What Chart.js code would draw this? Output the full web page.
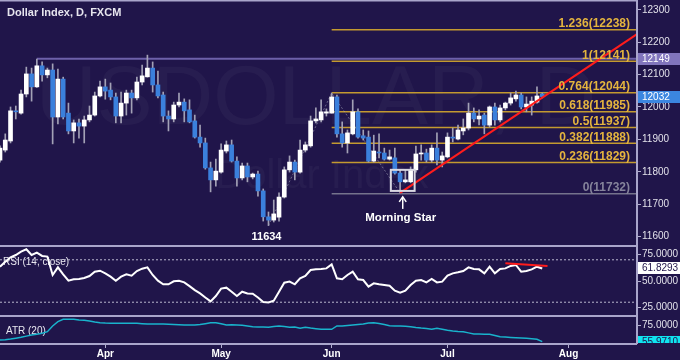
<!DOCTYPE html>
<html>
<head>
<meta charset="utf-8">
<script src="https://cdn.jsdelivr.net/npm/chart.js@4.4.1/dist/chart.umd.min.js"></script>
<style>
  html,body{margin:0;padding:0;background:#20154a;}
  canvas{display:block;}
</style>
</head>
<body>
<canvas id="c" width="680" height="360"></canvas>
<script>
/* Dollar Index, daily — candles + RSI(14) + ATR(20) */

// daily candles, Mar 4 2015 onward (one per weekday)
const opens  = [11836,11867,11895,11988,11981,12040,12102,12062,12127,12099,12114,11969,12086,11981,11926,11951,11941,11960,11975,12034,
                12062,12052,12031,11972,12012,12043,12028,12077,12093,12120,12068,12037,11972,11963,12006,12015,11991,11957,11907,11889,
                11812,11775,11799,11864,11883,11833,11781,11818,11784,11793,11741,11661,11651,11660,11722,11806,11830,11799,11867,11880,
                11957,11960,11981,11981,12031,11917,11889,11917,11985,11911,11907,11833,11861,11858,11839,11843,11796,11769,11769,11806,
                11855,11858,11836,11873,11836,11846,11907,11901,11926,11935,11981,11963,11975,11944,12000,11960,11997,12012,12025,12037,
                12000,12006,12015,12040];
const highs  = [11880,11917,12000,12003,12052,12123,12120,12148,12139,12120,12133,12117,12092,12012,11960,11963,11972,12003,12046,12080,
                12086,12074,12043,12046,12052,12052,12092,12129,12160,12139,12111,12046,11988,12015,12043,12025,12022,11975,11944,11904,
                11830,11839,11886,11895,11898,11846,11827,11827,11796,11802,11747,11676,11713,11735,11815,11849,11836,11898,11892,11972,
                11997,12022,11994,12043,12037,11954,11929,12022,11994,11929,11926,11913,11917,11873,11867,11873,11806,11806,11815,11879,
                11883,11870,11883,11920,11861,11920,11935,11944,11963,12012,11997,11991,11981,12003,12012,12006,12015,12043,12049,12043,
                12031,12031,12062,12043];
const lows   = [11830,11861,11889,11963,11978,12031,12018,12060,12080,12090,11886,11948,11963,11917,11889,11904,11889,11954,11972,12031,
                12024,12022,11951,11951,11975,11981,12022,12068,12092,12046,12028,11954,11926,11954,12000,11954,11951,11904,11876,11808,
                11738,11756,11796,11858,11830,11756,11775,11769,11778,11725,11648,11634,11645,11648,11719,11799,11775,11796,11861,11876,
                11951,11954,11972,11981,11907,11876,11858,11914,11904,11898,11830,11830,11843,11836,11836,11793,11735,11766,11766,11799,
                11836,11830,11830,11821,11815,11843,11892,11898,11914,11929,11954,11945,11917,11938,11944,11954,11991,12006,12018,11994,
                11985,11975,12012,12028];
const closes = [11873,11898,11988,11985,12040,12102,12062,12127,12099,12114,11969,12086,11969,11926,11951,11941,11960,11975,12034,12062,
                12049,12031,11972,12012,12043,12028,12077,12096,12120,12068,12034,11972,11963,12006,12015,11988,11954,11907,11889,11812,
                11775,11802,11867,11883,11833,11781,11818,11784,11793,11741,11661,11651,11670,11722,11806,11830,11799,11867,11883,11957,
                11963,11985,11985,12031,11917,11889,11920,11985,11907,11904,11833,11864,11858,11839,11846,11796,11769,11775,11806,11855,
                11858,11836,11873,11836,11849,11907,11904,11929,11935,11981,11963,11972,11944,12000,11960,11997,12012,12028,12037,12000,
                12009,12018,12034,12032];

const rsiValues = [63.5,68.2,72.3,74.5,77.7,79.9,74.5,76.7,73.6,73,55.7,62.9,56.3,50.3,51.6,51.9,52.8,54.7,58.8,59.7,
                   57.2,54.1,50.3,54.1,56.3,55,59.4,61.6,62.9,55.7,50.3,46.9,46.9,49.7,50.3,48.7,45.2,41.4,38.3,34.5,
                   30.8,35.8,42.8,43.7,39.9,35.8,39.9,38.3,38,34.5,30.1,29.8,31.4,39.9,48.4,49.4,46.9,52.5,54.7,60.4,
                   61,61.3,61.9,65.7,52.5,51.6,55.7,58.8,51.6,50.9,44.7,47.8,46.9,46.2,45.6,40.9,39,40.9,46.2,50.3,
                   50.9,48.7,51.9,48.7,49.4,55,57.2,58.2,59.4,62.9,61.3,61,57.2,63.5,57.2,61.3,61.9,64.2,65.1,58.8,
                   59.4,61,63.5,61.8293];
const atrValues = [57.9,58.2,59,60,61,62.3,63.6,64.5,65.5,67.4,73.9,78.8,81.5,81.5,81.5,80.7,80.4,79.6,78.5,77.7,
                   77.2,76.9,76.9,76.9,76.9,76.9,76.9,76.5,76.1,76.1,76.1,76.1,75.8,75.5,75.2,75,75,75,75.5,76.5,
                   77.5,77.7,76.5,75,75.2,75,74.8,74,73.1,72.8,72.6,72.4,73.2,73.9,73.2,72.4,72.6,71.2,72.5,71.5,
                   70.8,70.1,70.1,70.1,73.9,73.9,74.5,75,75.5,76.1,77.2,77.7,76.8,75.5,74.2,73.9,73.9,73.5,73.1,72.2,
                   71.5,71,70.1,71.2,70.1,69,68.2,67.6,67.2,66,64.7,64.6,64.5,64.4,63,61.7,61.2,60.8,60.5,60.2,
                   59.8,59.3,58.7,55.971];

// fibonacci levels drawn from the June high
const fibRatios = ['1.236','1','0.764','0.618','0.5','0.382','0.236','0'];
const fibPrices = [12238,12141,12044,11985,11937,11888,11829,11732];
const fibFrom = 63;

const resistPrice = 12149, resistFrom = 7;
const trendIdx = [76,121], trendPrices = [11735,12225];
const zigIdx = [51,63,76], zigPrices = [11634,12043,11735];
const starIdx = [75,78], starBox = [11741,11806];
const lowIdx = 51, lowLabel = '11634';

const rsiBands = [70,30];
const rsiDivIdx = [96,104], rsiDivValues = [66.7,64.2];

const priceTicks = [11600,11700,11800,11900,12000,12100,12200,12300];
const rsiTicks = [25,50,75];
const atrTicks = [75];
const lastPrice = 12032, lastRsi = 61.8293, lastAtr = 55.9710;

const SLOTS = 122;
const MONTHS = ['Jan','Feb','Mar','Apr','May','Jun','Jul','Aug','Sep','Oct','Nov','Dec'];

// weekday calendar for the x categories
const days = [];
for (let d = new Date(Date.UTC(2015,2,4)); days.length < SLOTS; d.setUTCDate(d.getUTCDate()+1)) {
  const w = d.getUTCDay();
  if (w > 0 && w < 6) days.push(d.toISOString().slice(0,10));
}
const monthTick = days.map((s,i) => (i > 0 && s.slice(5,7) !== days[i-1].slice(5,7)) ? MONTHS[+s.slice(5,7)-1] : '');

const BG = '#20154a', BLUE = '#3b80dc', GOLD = '#c39a30', GOLDTXT = '#e4b43e', FRAME = '#a9a5cb';
const TICK = '#e2e1ea', FONT = '"Liberation Sans", Arial, sans-serif';
Chart.defaults.font.family = FONT;

const seg = (idx, vals) => idx.map((i,k) => ({x: days[i], y: vals[k]}));
const bull = opens.map((o,i) => closes[i] >= o);

const datasets = [
  {type:'line', data: seg(trendIdx, trendPrices), borderColor:'#ff1c1c', borderWidth:2, pointRadius:0, order:0, yAxisID:'y'},
  {type:'bar', data: opens.map((o,i) => [o, closes[i]]), backgroundColor: bull.map(b => b ? '#ffffff' : BLUE),
   barThickness:4, grouped:false, minBarLength:1, order:1, yAxisID:'y'},
  {type:'bar', data: lows.map((l,i) => [l, highs[i]]), backgroundColor:'#a3a1b6',
   barThickness:1, grouped:false, order:2, yAxisID:'y'},
  {type:'line', data: seg(zigIdx, zigPrices), borderColor:'rgba(170,168,190,0.55)', borderWidth:1, borderDash:[2,2], pointRadius:0, order:4, yAxisID:'y'},
  {type:'line', data: seg([resistFrom, SLOTS-1], [resistPrice, resistPrice]), borderColor:'#6d60aa', borderWidth:2, pointRadius:0, order:5, yAxisID:'y'},
  ...fibPrices.map((p,k) => ({type:'line', data: seg([fibFrom, SLOTS-1], [p,p]),
     borderColor: fibRatios[k] === '0' ? '#75738c' : GOLD, borderWidth:1.5, pointRadius:0, order:5, yAxisID:'y'})),
  ...rsiBands.map(v => ({type:'line', data: seg([0, SLOTS-1], [v,v]), borderColor:'#b9b7cf', borderWidth:1, borderDash:[2,2], pointRadius:0, order:6, yAxisID:'rsi'})),
  {type:'line', data: rsiValues, borderColor:'#ffffff', borderWidth:2, pointRadius:0, order:3, yAxisID:'rsi'},
  {type:'line', data: seg(rsiDivIdx, rsiDivValues), borderColor:'#ff1c1c', borderWidth:2, pointRadius:0, order:0, yAxisID:'rsi'},
  {type:'line', data: atrValues, borderColor:'#19b3cc', borderWidth:1.5, pointRadius:0, order:3, yAxisID:'atr'}
];

function yAxis(weight, min, max, list, fmt){
  return {
    position:'right', stack:'panels', stackWeight:weight, min, max,
    afterBuildTicks: s => { s.ticks = list.map(v => ({value:v})); },
    afterFit: s => { s.width = 43; s.paddingTop = 0; s.paddingBottom = 0; },
    border:{display:false},
    grid:{drawOnChartArea:false, drawTicks:true, tickLength:4, tickColor:'#b3b0cf'},
    ticks:{color:TICK, padding:1, font:{size:10}, callback: fmt}
  };
}

function priceTag(ctx, y, text, bg, fg, clipBottom){
  ctx.save();
  if (clipBottom) { ctx.beginPath(); ctx.rect(637, 0, 43, clipBottom); ctx.clip(); }
  ctx.fillStyle = bg; ctx.fillRect(638, Math.round(y) - 6, 42, 12);
  ctx.fillStyle = fg; ctx.font = '10px ' + FONT; ctx.textBaseline = 'middle'; ctx.textAlign = 'left';
  ctx.fillText(text, 642, Math.round(y) + 0.5);
  ctx.restore();
}

const decor = {
  id:'decor',
  beforeDraw(ch){
    const c = ch.ctx; c.save(); c.fillStyle = BG; c.fillRect(0,0,ch.width,ch.height); c.restore();
  },
  beforeDatasetsDraw(ch){
    const c = ch.ctx, r = ch.scales.rsi, a = ch.scales.atr;
    c.save();
    c.fillStyle = 'rgba(255,255,255,0.035)'; c.textAlign = 'center'; c.textBaseline = 'alphabetic';
    c.font = '84px ' + FONT; c.fillText('USDOLLAR, D', 316, 124);
    c.font = '40px ' + FONT; c.fillText('Dollar Index', 322, 188);
    c.fillStyle = '#e8e7f0'; c.textAlign = 'left'; c.textBaseline = 'middle'; c.font = '10px ' + FONT;
    c.fillText('RSI (14, close)', 3, r.top + 16);
    c.fillText('ATR (20)', 6, a.top + 15);
    c.restore();
  },
  afterDatasetsDraw(ch){
    const c = ch.ctx, x = ch.scales.x, y = ch.scales.y;
    c.save();
    // fibonacci labels
    c.font = 'bold 12px ' + FONT; c.textAlign = 'right'; c.textBaseline = 'alphabetic';
    fibPrices.forEach((p,k) => {
      c.fillStyle = fibRatios[k] === '0' ? '#85839b' : GOLDTXT;
      c.fillText(fibRatios[k] + '(' + p + ')', 630, y.getPixelForValue(p) - 2.5);
    });
    // morning star box
    const bx0 = x.getPixelForValue(starIdx[0]) - 4, bx1 = x.getPixelForValue(starIdx[1]) + 4;
    const by0 = y.getPixelForValue(starBox[1]), by1 = y.getPixelForValue(starBox[0]);
    c.strokeStyle = '#d9d8e2'; c.lineWidth = 2; c.strokeRect(bx0, by0, bx1 - bx0, by1 - by0);
    const ax = (x.getPixelForValue(76) + x.getPixelForValue(77)) / 2;
    c.strokeStyle = '#ffffff'; c.lineWidth = 1.5;
    c.beginPath(); c.moveTo(ax, by1 + 18); c.lineTo(ax, by1 + 7); c.stroke();
    c.beginPath(); c.moveTo(ax - 3.5, by1 + 11); c.lineTo(ax, by1 + 6); c.lineTo(ax + 3.5, by1 + 11); c.stroke();
    c.fillStyle = '#ffffff'; c.textAlign = 'center'; c.textBaseline = 'middle'; c.font = 'bold 11.5px ' + FONT;
    c.fillText('Morning Star', ax - 2, by1 + 27);
    c.font = 'bold 11px ' + FONT;
    c.fillText(lowLabel, x.getPixelForValue(lowIdx) - 2, y.getPixelForValue(+lowLabel) + 11);
    c.restore();
  },
  afterDraw(ch){
    const c = ch.ctx, y = ch.scales.y, r = ch.scales.rsi, a = ch.scales.atr, area = ch.chartArea;
    c.save();
    c.strokeStyle = FRAME; c.lineWidth = 2;
    [y.top - 0.5, r.top, a.top, a.bottom].forEach(v => { c.beginPath(); c.moveTo(0, v); c.lineTo(area.right, v); c.stroke(); });
    c.beginPath(); c.moveTo(area.right, 0); c.lineTo(area.right, a.bottom); c.stroke();
    c.fillStyle = '#e6e5ee'; c.font = 'bold 11px ' + FONT; c.textAlign = 'left'; c.textBaseline = 'middle';
    c.fillText('Dollar Index, D, FXCM', 7, 13);
    c.restore();
    priceTag(c, y.getPixelForValue(resistPrice), String(resistPrice), '#8175bd', '#ffffff');
    priceTag(c, y.getPixelForValue(lastPrice), String(lastPrice), '#3b86e0', '#ffffff');
    priceTag(c, r.getPixelForValue(lastRsi), lastRsi.toFixed(4), '#ffffff', '#20154a');
    priceTag(c, a.getPixelForValue(lastAtr), lastAtr.toFixed(4), '#10e4f0', '#20154a', a.bottom - 1);
  }
};

new Chart(document.getElementById('c'), {
  type:'bar',
  data:{labels: days, datasets},
  options:{
    responsive:false, animation:false, devicePixelRatio:1,
    layout:{padding:{top:1, left:0, right:0, bottom:0}},
    plugins:{legend:{display:false}, tooltip:{enabled:false}},
    scales:{
      x:{
        type:'category', offset:false,
        afterFit: s => { s.height = 16; s.paddingLeft = 0; s.paddingRight = 0; },
        border:{display:false},
        grid:{offset:false, drawOnChartArea:false, drawTicks:true, tickLength:4,
              tickColor: ctx => monthTick[ctx.index] ? '#b3b0cf' : 'rgba(0,0,0,0)'},
        ticks:{autoSkip:false, maxRotation:0, padding:0, color:'#ffffff', font:{size:10, weight:'bold'},
               callback: (v,i) => monthTick[i]}
      },
      y: yAxis(245, 11571, 12327, priceTicks, v => String(v)),
      rsi: yAxis(70, 17, 83, rsiTicks, v => v.toFixed(4)),
      atr: yAxis(28, 53.3, 85.3, atrTicks, v => v.toFixed(4))
    }
  },
  plugins:[decor]
});
</script>
</body>
</html>
